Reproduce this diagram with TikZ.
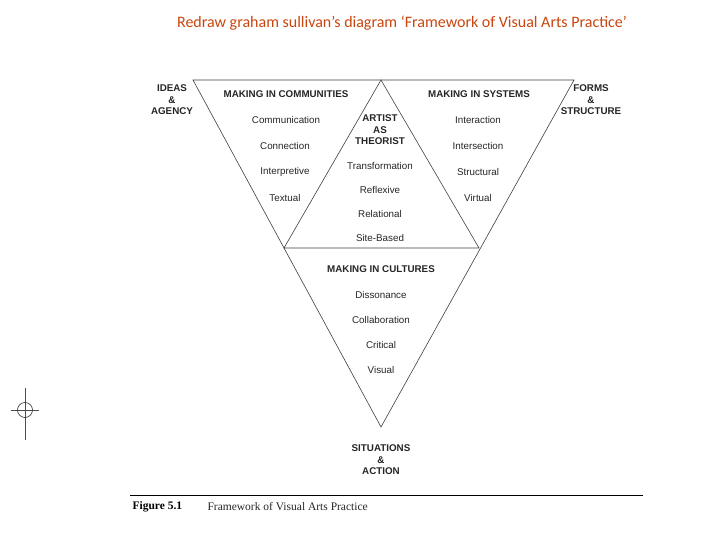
\documentclass[tikz,border=0pt]{standalone}
\usepackage{fontspec}
\setmainfont{Liberation Sans}
\newfontfamily\titlefont{Carlito}
\newfontfamily\capfont{Liberation Serif}
\begin{document}
\begin{tikzpicture}[x=1pt,y=-1pt,
  lbl/.style={font=\fontsize{9.8}{11}\selectfont, text=black!85},
  hd/.style={font=\bfseries\fontsize{9.8}{11.5}\selectfont, align=center, text=black!85},
  edge/.style={draw=black!75, line width=0.6pt}]
\useasboundingbox (0,0) rectangle (720,540);
\fill[white] (0,0) rectangle (720,540);
\node[font=\titlefont\fontsize{16}{19}\selectfont, text={rgb,255:red,200;green,70;blue,15}] (title) at (402,23) {Redraw graham sullivan’s diagram ‘Framework of Visual Arts Practice’};
% triangles
\coordinate (A) at (193,80); \coordinate (B) at (574,80); \coordinate (C) at (381,427);
\coordinate (M) at (381,80); \coordinate (L) at (284,248); \coordinate (R) at (479,248);
\draw[edge] (A) -- (B) -- (C) -- cycle;
\draw[edge] (L) -- (M) -- (R) -- cycle;
% corner labels
\node[hd] (ideas) at (172,100) {IDEAS\\\&\\AGENCY};
\node[hd] (forms) at (591,100) {FORMS\\\&\\STRUCTURE};
\node[hd] (sit) at (381,460) {SITUATIONS\\\&\\ACTION};
% communities
\node[hd] (mc) at (286,94) {MAKING IN COMMUNITIES};
\node[lbl] (c1) at (286,120) {Communication};
\node[lbl] (c2) at (285,146) {Connection};
\node[lbl] (c3) at (285,172) {Interpretive};
\node[lbl] (c4) at (285,198) {Textual};
% systems
\node[hd] (ms) at (479,94) {MAKING IN SYSTEMS};
\node[lbl] (s1) at (478,120) {Interaction};
\node[lbl] (s2) at (478,146) {Intersection};
\node[lbl] (s3) at (478,172) {Structural};
\node[lbl] (s4) at (478,198) {Virtual};
% theorist
\node[hd] (at) at (380,130) {ARTIST\\AS\\THEORIST};
\node[lbl] (t1) at (380,166) {Transformation};
\node[lbl] (t2) at (380,190) {Reflexive};
\node[lbl] (t3) at (380,214) {Relational};
\node[lbl] (t4) at (380,238) {Site-Based};
% cultures
\node[hd] (mcu) at (381,269) {MAKING IN CULTURES};
\node[lbl] (u1) at (381,295) {Dissonance};
\node[lbl] (u2) at (381,320) {Collaboration};
\node[lbl] (u3) at (381,345) {Critical};
\node[lbl] (u4) at (381,370) {Visual};
% caption
\draw[black, line width=0.9pt] (130,495) -- (643,495);
\node[anchor=west, font=\capfont\bfseries\fontsize{11.5}{13}\selectfont] (fig) at (129,507) {Figure 5.1};
\node[anchor=west, font=\capfont\fontsize{11.5}{13}\selectfont, text=black!85] (fw) at (204,507) {Framework of Visual Arts Practice};
% registration mark
\draw[black!70, line width=0.5pt] (25,388) -- (25,440) (11,410) -- (39,410);
\draw[black!80, line width=0.6pt] (25,410) circle (7.5);
\end{tikzpicture}
\end{document}
